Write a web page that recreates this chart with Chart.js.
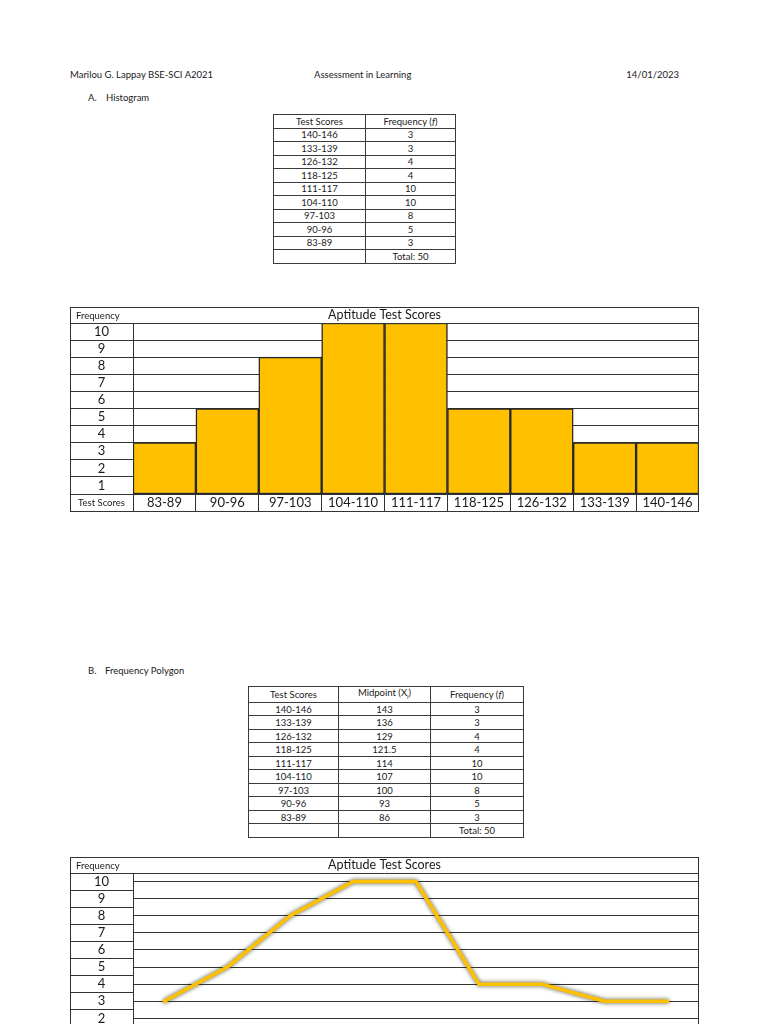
<!DOCTYPE html>
<html>
<head>
<meta charset="utf-8">
<script src="https://cdn.jsdelivr.net/npm/chart.js@4.4.1/dist/chart.umd.min.js"></script>
<style>
html,body{margin:0;padding:0;background:#fff;}
body{position:relative;width:768px;height:1070px;overflow:hidden;font-family:Lato,"Open Sans",sans-serif;color:#1a1a1a;}
.t{position:absolute;font-size:9.5px;line-height:12px;white-space:nowrap;}
table{position:absolute;border-collapse:collapse;table-layout:fixed;font-size:9.5px;}
td{border:1px solid #3a3a3a;text-align:center;padding:0;line-height:11px;overflow:hidden;white-space:nowrap;}
tr{height:13.5px;}
canvas{position:absolute;}
</style>
</head>
<body>
<div class="t" style="left:70px;top:69px;">Marilou G. Lappay BSE-SCI A2021</div>
<div class="t" style="left:314px;top:69px;">Assessment in Learning</div>
<div class="t" style="right:89px;top:69px;">14/01/2023</div>
<div class="t" style="left:88px;top:92px;">A.</div>
<div class="t" style="left:106px;top:92px;">Histogram</div>

<table id="tab1" style="left:273px;top:114px;width:182px;">
<colgroup><col style="width:92px"><col style="width:90px"></colgroup>
<tbody></tbody>
</table>

<canvas id="hist" width="629" height="205" style="left:70px;top:307px;width:629px;height:205px;"></canvas>

<div class="t" style="left:88px;top:665px;">B.</div>
<div class="t" style="left:105px;top:665px;">Frequency Polygon</div>

<table id="tab2" style="left:248px;top:686px;width:275px;">
<colgroup><col style="width:90px"><col style="width:92px"><col style="width:93px"></colgroup>
<tbody></tbody>
</table>

<canvas id="poly" width="629" height="205" style="left:70px;top:857px;width:629px;height:205px;"></canvas>

<script>
// ---- data ----
const classIntervals  = ['83-89','90-96','97-103','104-110','111-117','118-125','126-132','133-139','140-146'];
const frequencies     = [3, 5, 8, 10, 10, 4, 4, 3, 3];      // tables + polygon
const histogramHeights = [3, 5, 8, 10, 10, 5, 5, 3, 3];     // bar heights as drawn in the histogram
const midpoints       = ['86','93','100','107','114','121.5','129','136','143'];
const yBandLabels     = ['10','9','8','7','6','5','4','3','2','1'];
const totalLabel      = 'Total: 50';
const chartTitle      = 'Aptitude Test Scores';

// ---- tables ----
function fillTable(id, header, rows, footer) {
  const tb = document.querySelector('#' + id + ' tbody');
  let html = '<tr>' + header.map(h => '<td>' + h + '</td>').join('') + '</tr>';
  rows.forEach(r => { html += '<tr>' + r.map(c => '<td>' + c + '</td>').join('') + '</tr>'; });
  html += '<tr>' + footer.map(c => '<td>' + c + '</td>').join('') + '</tr>';
  tb.innerHTML = html;
}
const idxDesc = classIntervals.map((_, i) => i).reverse();
fillTable('tab1', ['Test Scores', 'Frequency (<i>f</i>)'],
  idxDesc.map(i => [classIntervals[i], frequencies[i]]), ['', totalLabel]);
fillTable('tab2', ['Test Scores', 'Midpoint (X<sub style="font-size:6px">i</sub>)', 'Frequency (<i>f</i>)'],
  idxDesc.map(i => [classIntervals[i], midpoints[i], frequencies[i]]), ['', '', totalLabel]);

// ---- charts ----
const INK = '#1a1a1a';
const LINE = '#333333';
const FONT = 'Lato';

const framePlugin = {
  id: 'frame',
  afterDraw(chart, args, opts) {
    const {ctx, chartArea, width, height} = chart;
    ctx.save();
    ctx.strokeStyle = LINE;
    ctx.lineWidth = 1;
    ctx.strokeRect(0.5, 0.5, width - 1, height - 1);
    const ty = Math.round(chartArea.top) + 0.5;
    ctx.beginPath(); ctx.moveTo(0, ty); ctx.lineTo(width, ty); ctx.stroke();
    ctx.fillStyle = INK;
    ctx.font = '9.5px ' + FONT;
    ctx.textBaseline = 'middle';
    ctx.textAlign = 'left';
    ctx.fillText(opts.cornerTop, 6, chartArea.top / 2 + 1);
    if (opts.cornerBottom) {
      const xs = chart.scales.x;
      ctx.textAlign = 'center';
      ctx.fillText(opts.cornerBottom, chartArea.left / 2, (xs.top + xs.bottom) / 2 + 0.5);
    }
    ctx.restore();
  }
};

const shadowPlugin = {
  id: 'lineShadow',
  beforeDatasetsDraw(chart) {
    const c = chart.ctx;
    c.save();
    c.shadowColor = 'rgba(60,60,20,0.9)';
    c.shadowBlur = 4;
  },
  afterDatasetsDraw(chart) { chart.ctx.restore(); }
};

function xAxis() {
  return {
    type: 'category',
    offset: true,
    grid: { offset: true, drawOnChartArea: false, tickLength: 17, color: LINE, lineWidth: 1 },
    border: { display: true, color: LINE },
    ticks: { padding: -16, color: INK, font: { family: FONT, size: 13 }, autoSkip: false, maxRotation: 0 },
    afterFit: s => { s.height = 17; }
  };
}
function bandAxis(onArea) {
  return {
    type: 'category',
    position: 'left',
    labels: yBandLabels,
    offset: true,
    grid: { offset: true, drawOnChartArea: onArea, tickLength: 63, color: LINE, lineWidth: 1 },
    border: { display: true, color: LINE },
    ticks: { crossAlign: 'center', padding: -39, autoSkip: false, color: INK, font: { family: FONT, size: 13 } },
    afterFit: s => { s.width = 63; }
  };
}
const common = {
  responsive: false,
  animation: false,
  devicePixelRatio: 1,
  layout: { padding: { top: 0, left: 0, right: 0, bottom: 1 } },
};
function pluginsOpts() {
  return {
    legend: { display: false },
    tooltip: { enabled: false },
    title: { display: true, text: chartTitle, color: INK, font: { family: FONT, size: 12.5, weight: 'normal', lineHeight: '16px' }, padding: 0 },
    frame: { cornerTop: 'Frequency', cornerBottom: 'Test Scores' }
  };
}

new Chart(document.getElementById('hist'), {
  type: 'bar',
  data: {
    labels: classIntervals,
    datasets: [{
      data: histogramHeights,
      backgroundColor: '#FFC000',
      borderColor: '#262626',
      borderWidth: 1.5,
      borderSkipped: false,
      barPercentage: 1,
      categoryPercentage: 1,
      yAxisID: 'y'
    }]
  },
  options: Object.assign({}, common, {
    plugins: pluginsOpts(),
    scales: {
      x: xAxis(),
      y: { type: 'linear', min: 0, max: 10, display: false },
      yc: bandAxis(true)
    }
  }),
  plugins: [framePlugin]
});

new Chart(document.getElementById('poly'), {
  type: 'line',
  data: {
    labels: classIntervals,
    datasets: [{
      data: frequencies,
      borderColor: '#FFC000',
      borderWidth: 3.5,
      pointRadius: 0,
      tension: 0,
      fill: false,
      borderJoinStyle: 'round',
      borderCapStyle: 'round',
      yAxisID: 'y'
    }]
  },
  options: Object.assign({}, common, {
    plugins: pluginsOpts(),
    scales: {
      x: xAxis(),
      y: {
        type: 'linear', position: 'left', min: 0.5, max: 10.5,
        grid: { drawTicks: false, color: LINE, lineWidth: 1 },
        border: { display: false },
        ticks: { display: false },
        afterBuildTicks: s => { s.ticks = yBandLabels.map(v => ({ value: Number(v) })); }
      },
      yc: bandAxis(false)
    }
  }),
  plugins: [framePlugin, shadowPlugin]
});
</script>
</body>
</html>
